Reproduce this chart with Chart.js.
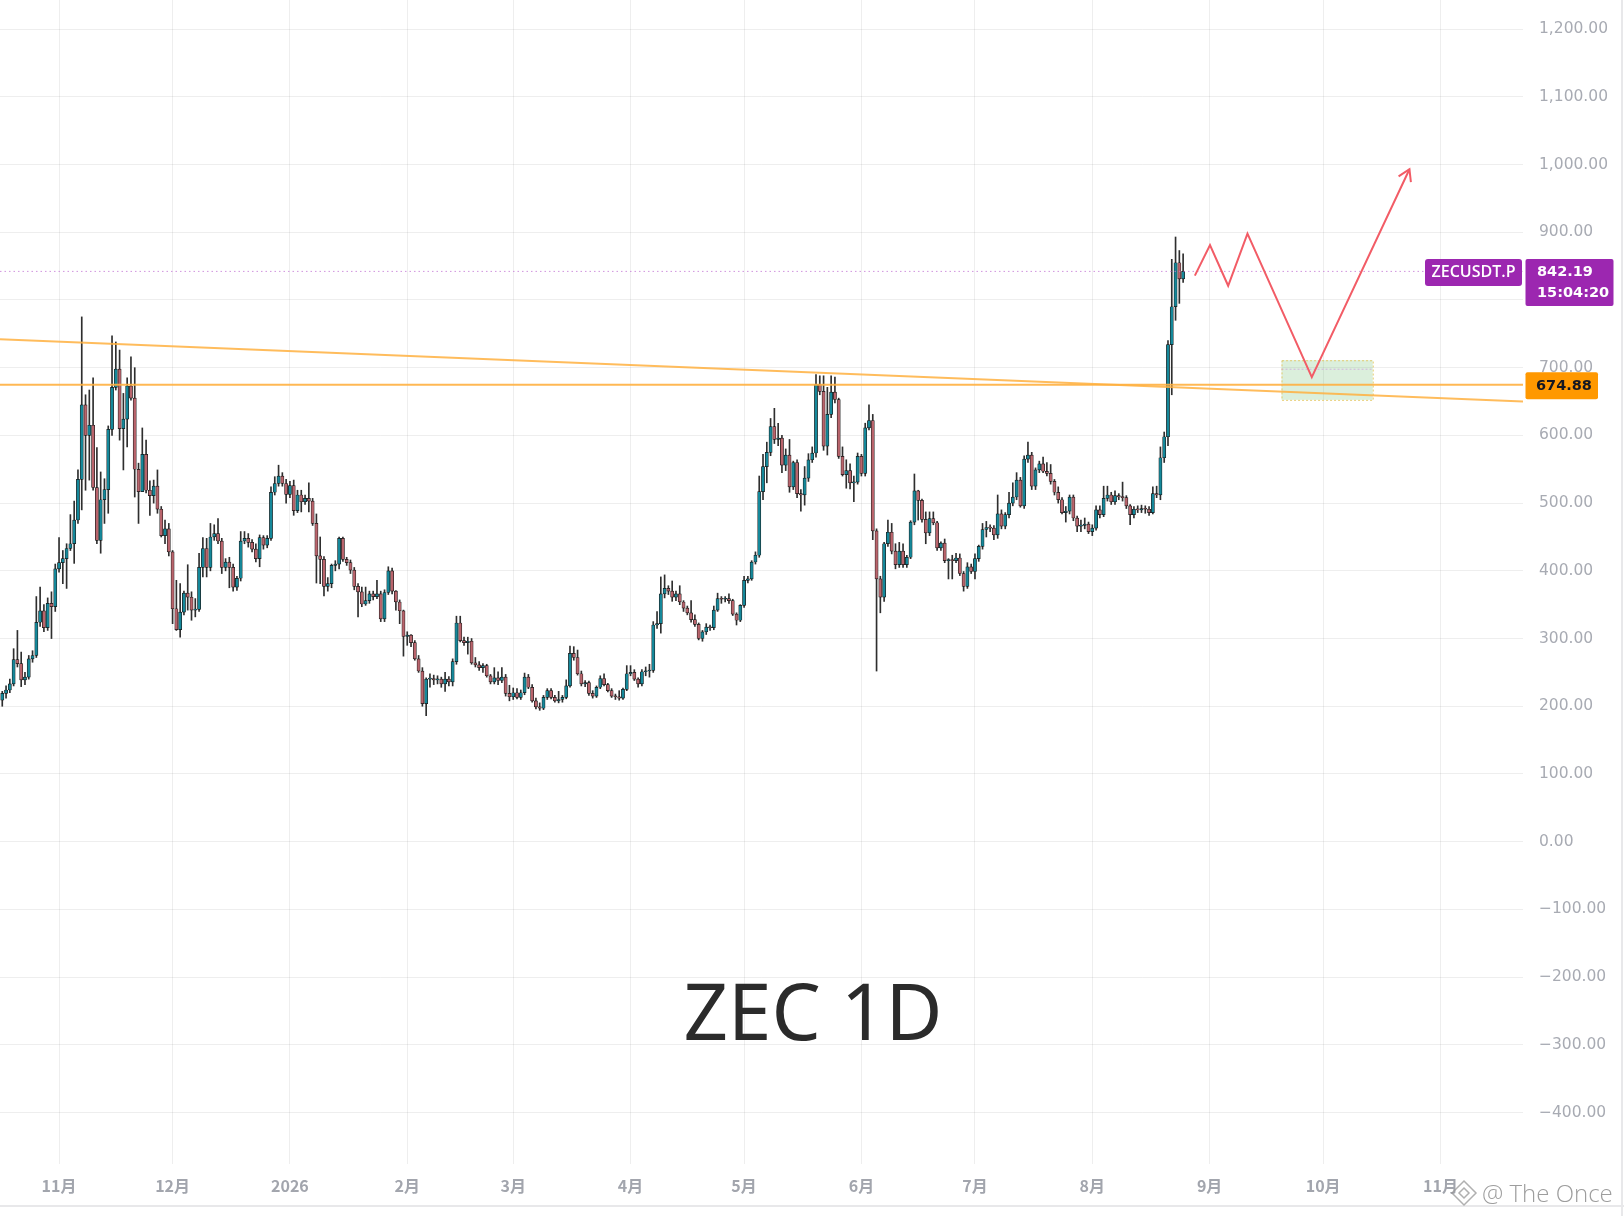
<!DOCTYPE html>
<html>
<head>
<meta charset="utf-8">
<title>ZEC 1D</title>
<script src="https://cdn.jsdelivr.net/npm/chart.js@4.4.1/dist/chart.umd.min.js"></script>
<style>
  html, body { margin: 0; padding: 0; background: #fff; }
  #wrap { width: 1624px; height: 1216px; position: relative; }
</style>
</head>
<body>
<div id="wrap"><canvas id="zec_chart"></canvas></div>
<script>
// one candle per day, day 0 = 2025-10-17
var start_date = '2025-10-17';

var opens = [
  209,219,224,233,269,263,239,243,270,275,
  324,341,316,352,347,403,412,418,433,440,
  475,535,645,600,615,523,445,505,520,609,
  671,698,610,624,673,655,550,517,572,519,
  511,525,491,452,462,428,344,313,339,367,
  361,342,343,405,433,405,450,455,444,405,
  413,405,376,389,444,448,442,432,418,449,
  438,448,516,529,540,529,513,526,489,512,
  502,507,503,470,422,417,377,381,408,410,
  448,417,412,401,377,369,351,356,366,362,
  366,329,368,400,370,354,341,303,305,294,
  270,252,204,240,241,239,240,233,240,236,
  266,323,297,294,296,264,261,257,260,245,
  236,242,238,243,219,214,220,213,220,243,
  228,208,199,197,213,223,213,208,210,213,
  230,278,272,248,233,235,219,215,228,241,
  232,223,215,214,212,225,248,250,240,233,
  251,252,253,320,322,366,374,370,361,366,
  354,345,338,328,321,300,310,317,316,342,
  359,358,359,356,336,327,349,386,388,413,
  423,517,554,575,613,594,596,556,571,524,
  560,514,512,537,564,574,675,665,584,631,
  664,653,569,542,548,530,531,569,544,611,
  622,459,388,361,440,457,429,409,429,409,
  420,472,518,504,476,456,477,471,434,441,
  415,416,415,419,396,377,406,399,418,436,
  461,464,463,453,484,466,483,500,509,534,
  496,565,571,525,549,558,547,544,532,516,
  505,486,488,509,478,466,467,469,458,463,
  490,483,507,512,502,511,509,508,496,483,
  491,490,492,491,486,514,512,567,598,734,
  790,855,831
];
var highs = [
  222,230,240,285,312,280,250,275,282,362,
  376,350,360,369,410,449,430,440,483,503,
  549,775,660,667,685,582,546,536,614,747,
  738,726,662,685,716,700,559,611,593,533,
  534,549,495,475,470,430,386,381,370,409,
  369,359,426,449,448,470,468,477,448,418,
  420,410,392,458,458,455,446,440,453,452,
  452,524,539,556,545,535,532,534,519,519,
  512,530,507,484,450,421,390,410,415,450,
  450,420,416,405,381,376,376,370,370,386,
  370,372,406,404,371,357,342,310,306,297,
  275,257,242,248,246,245,243,250,244,270,
  333,333,302,302,300,272,266,263,262,247,
  257,251,257,247,231,227,226,224,249,247,
  232,212,205,216,226,226,216,222,216,239,
  289,288,283,252,238,237,223,230,245,248,
  234,226,218,223,227,260,260,254,242,254,
  258,262,325,340,391,394,378,385,370,378,
  356,348,356,335,323,312,322,320,348,367,
  362,362,366,358,338,350,392,392,415,428,
  540,572,590,625,640,618,600,580,594,562,
  564,520,554,573,583,690,688,688,671,688,
  686,655,583,564,558,540,574,572,618,645,
  631,462,392,442,475,470,440,442,440,423,
  474,543,519,506,487,487,487,473,443,447,
  418,423,426,425,399,412,410,425,438,470,
  473,468,467,512,490,486,516,530,545,538,
  570,590,575,552,562,568,560,557,535,524,
  508,495,512,512,481,475,478,472,468,496,
  496,525,525,516,518,514,531,511,498,495,
  496,497,496,495,524,525,583,605,740,860,
  893,873,868
];
var lows = [
  200,212,220,230,258,229,232,240,265,272,
  318,310,312,300,340,398,381,374,430,411,
  470,490,519,534,519,440,426,470,485,600,
  667,593,549,583,652,509,470,517,515,482,
  500,485,450,440,422,322,312,302,335,342,
  327,332,340,391,391,400,445,440,396,400,
  375,370,371,385,440,435,428,413,406,432,
  434,445,512,525,525,500,508,482,486,487,
  498,487,467,382,381,363,370,375,400,403,
  414,408,396,372,332,347,349,352,357,359,
  325,325,365,366,342,322,274,290,288,268,
  250,200,186,228,232,233,228,222,230,230,
  262,295,290,277,262,258,253,250,243,233,
  233,232,235,215,208,210,211,210,217,226,
  206,196,194,195,210,211,206,205,206,211,
  228,268,246,230,229,216,212,213,226,230,
  221,213,210,209,210,223,245,238,228,230,
  245,243,250,315,308,360,365,355,356,350,
  340,335,324,318,298,296,306,312,313,340,
  352,354,352,334,320,325,346,382,386,410,
  420,505,530,570,588,585,545,548,516,520,
  508,488,497,532,560,568,660,578,571,626,
  648,566,540,522,521,502,528,540,540,608,
  446,252,338,355,436,425,403,405,405,405,
  418,468,475,472,440,452,468,430,430,412,
  388,388,412,393,370,374,396,388,414,432,
  450,458,446,448,462,462,478,496,505,494,
  492,560,520,520,545,545,540,528,512,500,
  484,472,484,474,458,458,462,455,452,460,
  478,480,503,498,498,505,503,492,468,478,
  486,486,485,482,484,508,505,560,585,660,
  770,795,826
];
var closes = [
  219,224,233,269,263,239,243,270,275,324,
  341,316,352,347,403,412,418,433,440,475,
  535,645,600,615,523,445,505,520,609,671,
  698,610,624,673,655,550,517,572,519,511,
  525,491,452,462,428,344,313,339,367,361,
  342,343,405,433,405,450,455,444,405,413,
  405,376,389,444,448,442,432,418,449,438,
  448,516,529,540,529,513,526,489,512,502,
  507,503,470,422,417,377,381,408,410,448,
  417,412,401,377,369,351,356,366,362,366,
  329,368,400,370,354,341,303,305,294,270,
  252,204,240,241,239,240,233,240,236,266,
  323,297,294,296,264,261,257,260,245,236,
  242,238,243,219,214,220,213,220,243,228,
  208,199,197,213,223,213,208,210,213,230,
  278,272,248,233,235,219,215,228,241,232,
  223,215,214,212,225,248,250,240,233,251,
  252,253,320,322,366,374,370,361,366,354,
  345,338,328,321,300,310,317,316,342,359,
  358,359,356,336,327,349,386,388,413,423,
  517,554,575,613,594,596,556,571,524,560,
  514,512,537,564,574,675,665,584,631,664,
  653,569,542,548,530,531,569,544,611,622,
  459,388,361,440,457,429,409,429,409,420,
  472,518,504,476,456,477,471,434,441,415,
  416,415,419,396,377,406,399,418,436,461,
  464,463,453,484,466,483,500,509,534,496,
  565,571,525,549,558,547,544,532,516,505,
  486,488,509,478,466,467,469,458,463,490,
  483,507,512,502,511,509,508,496,483,491,
  490,492,491,486,514,512,567,598,734,790,
  855,831,842.19
];

// month starts as day offsets from start_date
var month_days = [15, 45, 76, 107, 135, 166, 196, 227, 257, 288, 319, 349, 380];
var month_labels = ['11月', '12月', '2026', '2月', '3月', '4月', '5月', '6月', '7月', '8月', '9月', '10月', '11月'];
var price_ticks = [-400, -300, -200, -100, 0, 100, 200, 300, 400, 500, 600, 700, 800, 900, 1000, 1100, 1200];

var symbol_name = 'ZECUSDT.P';
var last_price = 842.19;
var last_time = '15:04:20';
var level_price = 674.88;

// drawings
var trend_days = [-0.6, 401.8];
var trend_prices = [742, 650];
var path_days = [315.1, 319.1, 323.9, 329.0, 346.0, 371.8];
var path_prices = [836, 881, 821, 898, 686, 993];
var zone_days = [338, 362.1];
var zone_prices = [652.5, 711];

var up_color = '#15889a';
var down_color = '#b9646c';
var grid_color = 'rgba(0,0,0,0.065)';

var wick_data = [];
var body_data = [];
var body_colors = [];
for (var i = 0; i < closes.length; i++) {
    wick_data.push({x: i, y: [lows[i], highs[i]]});
    body_data.push({x: i, y: [opens[i], closes[i]]});
    body_colors.push(closes[i] >= opens[i] ? up_color : down_color);
}

function fmt_price(v) {
    var s = Number(v).toLocaleString('en-US', {minimumFractionDigits: 2, maximumFractionDigits: 2});
    return s.replace('-', '\u2212');
}

function round_box(ctx, x, y, w, h, r) {
    ctx.beginPath();
    ctx.moveTo(x + r, y);
    ctx.lineTo(x + w - r, y);
    ctx.quadraticCurveTo(x + w, y, x + w, y + r);
    ctx.lineTo(x + w, y + h - r);
    ctx.quadraticCurveTo(x + w, y + h, x + w - r, y + h);
    ctx.lineTo(x + r, y + h);
    ctx.quadraticCurveTo(x, y + h, x, y + h - r);
    ctx.lineTo(x, y + r);
    ctx.quadraticCurveTo(x, y, x + r, y);
    ctx.closePath();
}

var decor_plugin = {
    id: 'decor',
    beforeDatasetsDraw: function(chart) {
        var ctx = chart.ctx, xs = chart.scales.x, ys = chart.scales.y;
        var x0 = xs.getPixelForValue(zone_days[0]), x1 = xs.getPixelForValue(zone_days[1]);
        var y0 = ys.getPixelForValue(zone_prices[1]), y1 = ys.getPixelForValue(zone_prices[0]);
        ctx.save();
        ctx.fillStyle = 'rgba(76,175,80,0.2)';
        ctx.fillRect(x0, y0, x1 - x0, y1 - y0);
        ctx.setLineDash([2, 2]);
        ctx.lineWidth = 1;
        ctx.strokeStyle = 'rgba(226,196,90,0.85)';
        ctx.strokeRect(x0 + 0.5, y0 + 0.5, x1 - x0, y1 - y0);
        ctx.strokeStyle = 'rgba(200,140,220,0.6)';
        ctx.beginPath();
        var ym = ys.getPixelForValue((zone_prices[0] + zone_prices[1]) / 2 + 16);
        ctx.moveTo(x0, ym);
        ctx.lineTo(x1, ym);
        ctx.stroke();
        ctx.restore();
    },
    afterDatasetsDraw: function(chart) {
        // arrow head at the end of the projected path
        var ctx = chart.ctx, xs = chart.scales.x, ys = chart.scales.y;
        var n = path_days.length;
        var ax = xs.getPixelForValue(path_days[n - 1]), ay = ys.getPixelForValue(path_prices[n - 1]);
        var bx = xs.getPixelForValue(path_days[n - 2]), by = ys.getPixelForValue(path_prices[n - 2]);
        var ang = Math.atan2(ay - by, ax - bx);
        ctx.save();
        ctx.strokeStyle = '#f25c66';
        ctx.lineWidth = 2;
        ctx.beginPath();
        ctx.moveTo(ax - 13 * Math.cos(ang - 0.55), ay - 13 * Math.sin(ang - 0.55));
        ctx.lineTo(ax, ay);
        ctx.lineTo(ax - 13 * Math.cos(ang + 0.55), ay - 13 * Math.sin(ang + 0.55));
        ctx.stroke();
        ctx.restore();
    },
    afterDraw: function(chart) {
        var ctx = chart.ctx, ys = chart.scales.y, area = chart.chartArea;
        var right = area.right;
        ctx.save();

        // last price label
        var py = ys.getPixelForValue(last_price);
        ctx.fillStyle = '#9c27b0';
        round_box(ctx, right + 2.5, py - 12.5, 88, 47, 2);
        ctx.fill();
        round_box(ctx, right - 98, py - 12.5, 97, 27, 3);
        ctx.fill();
        ctx.fillStyle = '#ffffff';
        ctx.textBaseline = 'middle';
        ctx.textAlign = 'left';
        ctx.font = 'bold 14.5px "DejaVu Sans"';
        ctx.fillText(fmt_price(last_price), right + 14, py + 1);
        ctx.fillText(last_time, right + 14, py + 22);
        ctx.textAlign = 'center';
        ctx.font = '600 16px "Open Sans"';
        ctx.fillText(symbol_name, right - 49.5, py + 1);

        // horizontal level label
        var ly = ys.getPixelForValue(level_price);
        ctx.fillStyle = '#ff9800';
        round_box(ctx, right + 2.5, ly - 12.5, 72.5, 27, 2);
        ctx.fill();
        ctx.fillStyle = '#131722';
        ctx.textAlign = 'left';
        ctx.font = 'bold 14.5px "DejaVu Sans"';
        ctx.fillText(fmt_price(level_price), right + 13, ly + 1.5);

        // title
        ctx.fillStyle = '#2b2b2b';
        ctx.textAlign = 'center';
        ctx.textBaseline = 'alphabetic';
        ctx.font = '78px "Noto Sans"';
        ctx.fillText('ZEC 1D', 813, 1040);

        // frame lines of the screenshot
        ctx.strokeStyle = '#e8e8ea';
        ctx.lineWidth = 2;
        ctx.beginPath();
        ctx.moveTo(0, 1206);
        ctx.lineTo(1624, 1206);
        ctx.moveTo(1622, 0);
        ctx.lineTo(1622, 1216);
        ctx.stroke();

        // watermark
        ctx.strokeStyle = 'rgba(150,150,150,0.75)';
        ctx.lineWidth = 1.5;
        var cx = 1464, cy = 1193;
        ctx.beginPath();
        ctx.moveTo(cx, cy - 12); ctx.lineTo(cx + 12, cy); ctx.lineTo(cx, cy + 12); ctx.lineTo(cx - 12, cy); ctx.closePath();
        ctx.moveTo(cx, cy - 5); ctx.lineTo(cx + 5, cy); ctx.lineTo(cx, cy + 5); ctx.lineTo(cx - 5, cy); ctx.closePath();
        ctx.stroke();
        ctx.fillStyle = 'rgba(140,140,140,0.85)';
        ctx.textAlign = 'left';
        ctx.font = '300 24px "Open Sans"';
        ctx.fillText('@ The Once', 1482, 1202);
        ctx.restore();
    }
};

var zec_chart = new Chart(document.getElementById('zec_chart'), {
    type: 'bar',
    data: {
        datasets: [
            {
                type: 'line',
                label: 'path',
                data: path_days.map(function(d, k) { return {x: d, y: path_prices[k]}; }),
                borderColor: '#f25c66',
                borderWidth: 2,
                pointRadius: 0,
                tension: 0
            },
            {
                type: 'line',
                label: 'level',
                data: [{x: trend_days[0], y: level_price}, {x: trend_days[1], y: level_price}],
                borderColor: 'rgba(255,176,64,0.9)',
                borderWidth: 2,
                pointRadius: 0
            },
            {
                type: 'line',
                label: 'trend',
                data: [{x: trend_days[0], y: trend_prices[0]}, {x: trend_days[1], y: trend_prices[1]}],
                borderColor: 'rgba(255,176,64,0.85)',
                borderWidth: 2,
                pointRadius: 0
            },
            {
                type: 'line',
                label: 'last',
                data: [{x: trend_days[0], y: last_price}, {x: trend_days[1], y: last_price}],
                borderColor: 'rgba(196,120,214,0.8)',
                borderWidth: 1,
                borderDash: [1.5, 3],
                pointRadius: 0
            },
            {
                label: 'body',
                data: body_data,
                grouped: false,
                barThickness: 3.2,
                backgroundColor: body_colors,
                borderColor: 'rgba(15,15,15,0.95)',
                borderWidth: 0.7,
                borderSkipped: false,
                minBarLength: 1
            },
            {
                label: 'wick',
                data: wick_data,
                grouped: false,
                barThickness: 1,
                backgroundColor: '#2e2e2e',
                borderWidth: 0
            }
        ]
    },
    options: {
        responsive: true,
        maintainAspectRatio: false,
        animation: false,
        layout: { padding: 0 },
        plugins: {
            legend: { display: false },
            tooltip: { enabled: false }
        },
        scales: {
            x: {
                type: 'linear',
                min: trend_days[0],
                max: trend_days[1],
                offset: false,
                grid: { color: grid_color, drawTicks: false, offset: false },
                border: { display: false },
                ticks: {
                    autoSkip: false,
                    maxRotation: 0,
                    padding: 12,
                    color: '#a2a5ad',
                    font: { family: '"Noto Sans CJK SC", "Noto Sans"', size: 16, weight: 'bold' },
                    callback: function(v) {
                        var k = month_days.indexOf(v);
                        return k >= 0 ? month_labels[k] : '';
                    }
                },
                afterBuildTicks: function(scale) {
                    scale.ticks = month_days.map(function(d) { return {value: d}; });
                },
                afterFit: function(scale) {
                    scale.height = 52;
                    scale.paddingLeft = 0;
                    scale.paddingRight = 0;
                }
            },
            y: {
                type: 'linear',
                position: 'right',
                min: -476,
                max: 1243,
                grid: { color: grid_color, drawTicks: false },
                border: { display: false },
                ticks: {
                    padding: 16,
                    color: '#a8abb3',
                    font: { family: '"DejaVu Sans"', size: 15.5 },
                    callback: function(v) { return fmt_price(v); }
                },
                afterBuildTicks: function(scale) {
                    scale.ticks = price_ticks.map(function(p) { return {value: p}; });
                },
                afterFit: function(scale) {
                    scale.width = 101;
                    scale.paddingTop = 0;
                    scale.paddingBottom = 0;
                }
            }
        }
    },
    plugins: [decor_plugin]
});
</script>
</body>
</html>
